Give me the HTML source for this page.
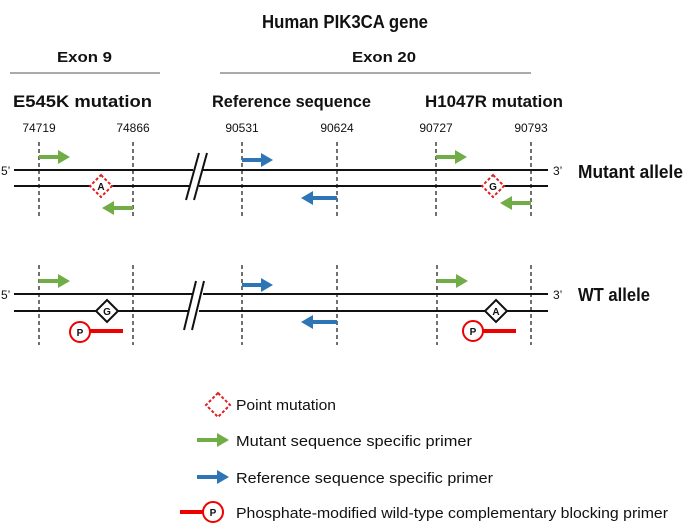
<!DOCTYPE html>
<html><head><meta charset="utf-8"><style>body{margin:0;background:#fff}svg{display:block}</style></head>
<body>
<svg width="685" height="526" xmlns="http://www.w3.org/2000/svg" font-family="'Liberation Sans',sans-serif">
<g font-weight="bold" fill="#111">
<text x="262" y="28" font-size="18" textLength="166" lengthAdjust="spacingAndGlyphs">Human PIK3CA gene</text>
<text x="57" y="62" font-size="15" textLength="55" lengthAdjust="spacingAndGlyphs">Exon 9</text>
<text x="352" y="62" font-size="15" textLength="64" lengthAdjust="spacingAndGlyphs">Exon 20</text>
<text x="13" y="107" font-size="17" textLength="139" lengthAdjust="spacingAndGlyphs">E545K mutation</text>
<text x="212" y="107" font-size="17" textLength="159" lengthAdjust="spacingAndGlyphs">Reference sequence</text>
<text x="425" y="107" font-size="17" textLength="138" lengthAdjust="spacingAndGlyphs">H1047R mutation</text>
<text x="578" y="178" font-size="18" textLength="105" lengthAdjust="spacingAndGlyphs">Mutant allele</text>
<text x="578" y="301" font-size="18" textLength="72" lengthAdjust="spacingAndGlyphs">WT allele</text>
</g>
<line x1="10" y1="73" x2="160" y2="73" stroke="#555" stroke-width="1"/>
<line x1="220" y1="73" x2="531" y2="73" stroke="#555" stroke-width="1"/>
<g font-size="12" fill="#111" text-anchor="middle">
<text x="39" y="132">74719</text><text x="133" y="132">74866</text>
<text x="242" y="132">90531</text><text x="337" y="132">90624</text>
<text x="436" y="132">90727</text><text x="531" y="132">90793</text>
<text x="1" y="175" text-anchor="start">5’</text><text x="553" y="175" text-anchor="start">3’</text>
<text x="1" y="299" text-anchor="start">5’</text><text x="553" y="299" text-anchor="start">3’</text>
</g>
<g stroke="#111" stroke-width="2">
<line x1="14" y1="170" x2="193" y2="170"/><line x1="203" y1="170" x2="548" y2="170"/>
<line x1="14" y1="186" x2="189" y2="186"/><line x1="199" y1="186" x2="548" y2="186"/>
<line x1="14" y1="294" x2="193" y2="294"/><line x1="203" y1="294" x2="548" y2="294"/>
<line x1="14" y1="311" x2="189" y2="311"/><line x1="199" y1="311" x2="548" y2="311"/>
<line x1="186" y1="200" x2="199" y2="153"/><line x1="194" y1="200" x2="207" y2="153"/>
<line x1="184" y1="330" x2="196" y2="281"/><line x1="192" y1="330" x2="204" y2="281"/>
</g>
<g stroke="#111" stroke-width="1.2" stroke-dasharray="4,3">
<line x1="39" y1="142" x2="39" y2="218"/><line x1="133" y1="142" x2="133" y2="218"/>
<line x1="242" y1="142" x2="242" y2="218"/><line x1="337" y1="142" x2="337" y2="218"/>
<line x1="436" y1="142" x2="436" y2="218"/><line x1="531" y1="142" x2="531" y2="218"/>
<line x1="39" y1="265" x2="39" y2="345"/><line x1="133" y1="265" x2="133" y2="345"/>
<line x1="242" y1="265" x2="242" y2="345"/><line x1="337" y1="265" x2="337" y2="345"/>
<line x1="437" y1="265" x2="437" y2="345"/><line x1="531" y1="265" x2="531" y2="345"/>
</g>
<g fill="#70ad47">
<path d="M39 155h19v-5l12 7-12 7v-5h-19z"/>
<path d="M133 206h-19v-5l-12 7 12 7v-5h19z"/>
<path d="M436 155h19v-5l12 7-12 7v-5h-19z"/>
<path d="M531 201h-19v-5l-12 7 12 7v-5h19z"/>
<path d="M39 279h19v-5l12 7-12 7v-5h-19z"/>
<path d="M437 279h19v-5l12 7-12 7v-5h-19z"/>
<path d="M197 438h20v-5l12 7-12 7v-5h-20z"/>
</g>
<g fill="#2e75b6">
<path d="M242 158h19v-5l12 7-12 7v-5h-19z"/>
<path d="M337 196h-24v-5l-12 7 12 7v-5h24z"/>
<path d="M242 283h19v-5l12 7-12 7v-5h-19z"/>
<path d="M337 320h-24v-5l-12 7 12 7v-5h24z"/>
<path d="M197 475h20v-5l12 7-12 7v-5h-20z"/>
</g>
<g stroke="#e02020" stroke-width="2" stroke-dasharray="3,2" fill="#fff">
<path d="M101 175l11 11-11 11-11-11z"/>
<path d="M493 175l11 11-11 11-11-11z"/>
<path d="M218 393l12 12-12 12-12-12z"/>
</g>
<g stroke="#111" stroke-width="2" fill="#fff">
<path d="M107 300l11 11-11 11-11-11z"/>
<path d="M496 300l11 11-11 11-11-11z"/>
</g>
<g font-size="10" font-weight="bold" text-anchor="middle" fill="#111">
<text x="101" y="190">A</text><text x="493" y="190">G</text>
<text x="107" y="315">G</text><text x="496" y="315">A</text>
</g>
<g stroke="#e00" fill="#fff">
<line x1="90" y1="331" x2="123" y2="331" stroke-width="4"/>
<line x1="483" y1="331" x2="516" y2="331" stroke-width="4"/>
<line x1="180" y1="512" x2="203" y2="512" stroke-width="4"/>
<circle cx="80" cy="332" r="10" stroke-width="2"/>
<circle cx="473" cy="331" r="10" stroke-width="2"/>
<circle cx="213" cy="512" r="10" stroke-width="2"/>
</g>
<g font-size="10" font-weight="bold" text-anchor="middle" fill="#111">
<text x="80" y="336">P</text><text x="473" y="335">P</text><text x="213" y="516">P</text>
</g>
<g font-size="15" fill="#111">
<text x="236" y="410" textLength="100" lengthAdjust="spacingAndGlyphs">Point mutation</text>
<text x="236" y="446" textLength="236" lengthAdjust="spacingAndGlyphs">Mutant sequence specific primer</text>
<text x="236" y="483" textLength="257" lengthAdjust="spacingAndGlyphs">Reference sequence specific primer</text>
<text x="236" y="518" textLength="432" lengthAdjust="spacingAndGlyphs">Phosphate-modified wild-type complementary blocking primer</text>
</g>
</svg>
</body></html>
